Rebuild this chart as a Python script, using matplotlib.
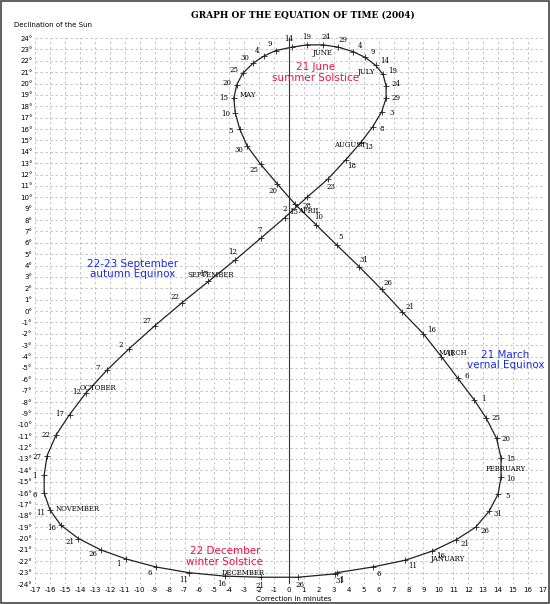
import numpy as np
import matplotlib.pyplot as plt

# ── data: every 5 days, (correction in minutes, declination in degrees) ──
days = ["Jan 1", "Jan 6", "Jan 11", "Jan 16", "Jan 21", "Jan 26", "Jan 31",
        "Feb 5", "Feb 10", "Feb 15", "Feb 20", "Feb 25",
        "Mar 1", "Mar 6", "Mar 11", "Mar 16", "Mar 21", "Mar 26", "Mar 31",
        "Apr 5", "Apr 10", "Apr 15", "Apr 20", "Apr 25", "Apr 30",
        "May 5", "May 10", "May 15", "May 20", "May 25", "May 30",
        "Jun 4", "Jun 9", "Jun 14", "Jun 19", "Jun 24", "Jun 29",
        "Jul 4", "Jul 9", "Jul 14", "Jul 19", "Jul 24", "Jul 29",
        "Aug 3", "Aug 8", "Aug 13", "Aug 18", "Aug 23", "Aug 28",
        "Sep 2", "Sep 7", "Sep 12", "Sep 17", "Sep 22", "Sep 27",
        "Oct 2", "Oct 7", "Oct 12", "Oct 17", "Oct 22", "Oct 27",
        "Nov 1", "Nov 6", "Nov 11", "Nov 16", "Nov 21", "Nov 26",
        "Dec 1", "Dec 6", "Dec 11", "Dec 16", "Dec 21", "Dec 26", "Dec 31"]
correction = [3.2, 5.6, 7.8, 9.6, 11.2, 12.5, 13.4,
              14.0, 14.2, 14.2, 13.9, 13.2,
              12.4, 11.3, 10.2, 9.0, 7.6, 6.2, 4.7,
              3.2, 1.8, 0.4, -0.8, -1.9, -2.8,
              -3.3, -3.6, -3.7, -3.5, -3.1, -2.4,
              -1.7, -0.9, 0.2, 1.2, 2.3, 3.3,
              4.3, 5.1, 5.8, 6.3, 6.5, 6.5,
              6.2, 5.6, 4.8, 3.8, 2.6, 1.2,
              -0.3, -1.9, -3.6, -5.4, -7.2, -9.0,
              -10.7, -12.2, -13.6, -14.7, -15.6, -16.2,
              -16.4, -16.4, -16.0, -15.3, -14.1, -12.6,
              -10.9, -8.9, -6.7, -4.3, -1.9, 0.6, 3.1]
declination = [-23.0, -22.5, -21.9, -21.1, -20.1, -19.0, -17.6,
               -16.1, -14.6, -12.9, -11.2, -9.4,
               -7.8, -5.9, -4.0, -2.0, -0.1, 1.9, 3.9,
               5.8, 7.6, 9.4, 11.2, 12.9, 14.5,
               16.0, 17.4, 18.7, 19.9, 20.9, 21.8,
               22.4, 22.9, 23.2, 23.4, 23.4, 23.2,
               22.8, 22.3, 21.6, 20.8, 19.8, 18.7,
               17.5, 16.2, 14.8, 13.3, 11.6, 10.0,
               8.2, 6.4, 4.5, 2.6, 0.7, -1.3,
               -3.3, -5.2, -7.2, -9.1, -10.9, -12.7,
               -14.4, -16.0, -17.5, -18.8, -20.0, -21.0,
               -21.8, -22.5, -23.0, -23.3, -23.4, -23.4, -23.1]

months = ["JANUARY", "FEBRUARY", "MARCH", "APRIL", "MAY", "JUNE", "JULY",
          "AUGUST", "SEPTEMBER", "OCTOBER", "NOVEMBER", "DECEMBER"]
month_x = [9.5, 13.2, 10.0, 0.6, -3.3, 1.6, 4.6, 3.0, -6.8, -14.0, -15.6, -4.5]
month_y = [-21.8, -13.9, -3.7, 8.8, 19.0, 22.7, 21.0, 14.6, 3.2, -6.8, -17.4, -23.0]

notes = ["21 June\nsummer Solstice", "22-23 September\nautumn Equinox",
         "21 March\nvernal Equinox", "22 December\nwinter Solstice"]
note_x = [1.8, -10.5, 14.5, -4.3]
note_y = [21.0, 3.7, -4.3, -21.6]
note_col = ["#ee1144", "#1a2ee0", "#1a2ee0", "#ee1144"]

x = np.array(correction)
y = np.array(declination)

fig = plt.figure(figsize=(5.5, 6.04), dpi=100)
ax = fig.add_axes([0.064, 0.033, 0.923, 0.904])

ax.set_xlim(-17, 17)
ax.set_ylim(-24, 24)
ax.set_xticks(range(-17, 18))
ax.set_yticks(range(-24, 25))
ax.set_xticklabels([str(v) for v in range(-17, 18)], fontsize=5)
ax.set_yticklabels([f"{v}°" for v in range(-24, 25)], fontsize=5)
ax.tick_params(length=0, pad=2)
ax.grid(True, color="#bbbbbb", linestyle=(0, (3, 3)), linewidth=0.6)
for s in ax.spines.values():
    s.set_visible(False)
ax.axvline(0, color="#333333", linewidth=0.8)

ax.plot(x, y, color="#222222", linewidth=0.9, marker="+", markersize=4,
        markeredgewidth=0.6)

# day numbers, pushed away from the centre of their loop
for d, xi, yi in zip(days, x, y):
    cx, cy = (1.4, 18.0) if yi > 8.5 else (-1.0, -10.0)
    v = np.array([(xi - cx) * 1.5, yi - cy])
    v = v / (np.hypot(*v) + 1e-9)
    ax.annotate(d.split()[1], (xi, yi), xytext=(v[0] * 7, v[1] * 6),
                textcoords="offset points", fontsize=5, ha="center",
                va="center", family="DejaVu Serif")

for m, mx, my in zip(months, month_x, month_y):
    ax.text(mx, my, m, fontsize=5, family="DejaVu Serif", ha="left",
            va="center")

for t, nx, ny, c in zip(notes, note_x, note_y, note_col):
    ax.text(nx, ny, t, color=c, fontsize=7.5, ha="center", va="center",
            linespacing=1.1)

fig.text(0.55, 0.975, "GRAPH OF THE EQUATION OF TIME (2004)", fontsize=6.5,
         fontweight="bold", family="DejaVu Serif", ha="center", va="center")
fig.text(0.025, 0.958, "Declination of the Sun", fontsize=5, va="center")
fig.text(0.535, 0.009, "Correction in minutes", fontsize=5, ha="center",
         va="center")

fig.patches.append(plt.Rectangle((0.002, 0.002), 0.996, 0.996,
                                 transform=fig.transFigure, fill=False,
                                 edgecolor="#444444", linewidth=1.2))

fig.savefig("out.png", dpi=100)
